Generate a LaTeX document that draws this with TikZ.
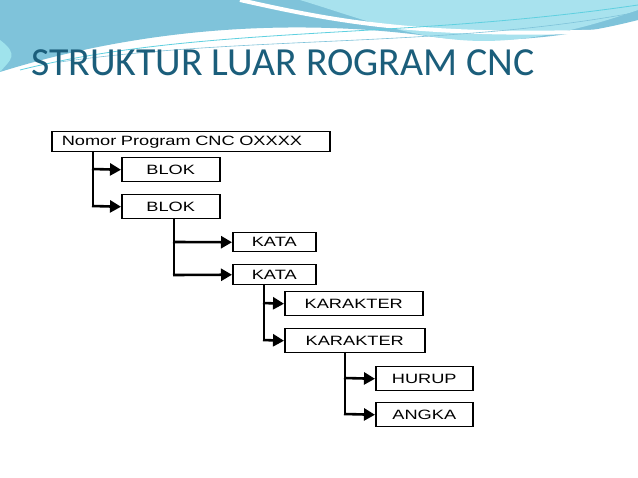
\documentclass[tikz,border=0pt]{standalone}
\usepackage{fontspec}
\setmainfont{Liberation Sans}
\newfontfamily\boxfont[FakeStretch=1.35]{Liberation Sans}
\newfontfamily\titlefont{Carlito}
\usetikzlibrary{arrows.meta}
\definecolor{titleblue}{HTML}{1B5E7B}
\definecolor{waveA}{HTML}{7FC3DA}
\definecolor{waveB}{HTML}{A8E2EE}
\definecolor{waveC}{HTML}{5FD0E0}
\tikzset{
 box/.style={draw,line width=1.5pt,inner sep=0pt,anchor=north west,font=\boxfont\fontsize{13.5}{15}\selectfont},
 conn/.style={line width=2.6pt,-{Triangle[length=11pt,width=12pt]}},
 trunk/.style={line width=2.6pt},
}
\begin{document}
\begin{tikzpicture}[x=1pt,y=-1pt]
\useasboundingbox (0,0) rectangle (638,478);
\fill[white] (0,0) rectangle (638,478);
% waves
\fill[waveA] (0,0) -- (638,0) -- (638,20) .. controls (560,40) and (480,45) .. (420,35) .. controls (300,20) and (150,25) .. (0,72) -- cycle;
\fill[waveB] (300,0) -- (638,0) -- (638,10) .. controls (580,30) and (520,45) .. (460,40) .. controls (400,35) and (350,15) .. (300,0) -- cycle;
\fill[waveC!60] (0,40) .. controls (20,55) and (10,60) .. (0,72) -- cycle;
\draw[white,line width=4pt] (240,0) .. controls (330,20) and (420,40) .. (638,30);
\draw[waveC,line width=0.8pt] (20,70) .. controls (200,25) and (400,40) .. (638,5);
\draw[waveA,line width=0.6pt] (60,62) .. controls (250,35) and (450,48) .. (638,12);
\node[anchor=west,text=titleblue,font=\titlefont\fontsize{39.8}{42}\selectfont,inner sep=0pt] (title) at (31,63) {STRUKTUR LUAR ROGRAM CNC};
% boxes
\node[box,minimum width=278pt,minimum height=20pt,text width=278pt,align=left] (nomor) at (51,131) {\hspace*{10pt}Nomor Program CNC OXXXX};
\node[box,minimum width=98pt,minimum height=24pt] (b1) at (121,157) {BLOK};
\node[box,minimum width=98pt,minimum height=24pt] (b2) at (121,194) {BLOK};
\node[box,minimum width=83pt,minimum height=19pt] (k1) at (232,232) {KATA};
\node[box,minimum width=83pt,minimum height=20pt] (k2) at (232,264) {KATA};
\node[box,minimum width=138pt,minimum height=24pt] (r1) at (284,291) {KARAKTER};
\node[box,minimum width=140pt,minimum height=24pt] (r2) at (284,328) {KARAKTER};
\node[box,minimum width=97pt,minimum height=24pt] (h) at (375,366) {HURUP};
\node[box,minimum width=97pt,minimum height=24pt] (a) at (375,402) {ANGKA};
% connectors
\draw[trunk] (93,151) -- (93,206);
\draw[conn] (92,169) -- (b1.west);
\draw[conn] (92,206) -- (b2.west);
\draw[trunk] (174,218) -- (174,275);
\draw[conn] (173,242) -- (k1.west);
\draw[conn] (173,275) -- (k2.west);
\draw[trunk] (264,284) -- (264,340);
\draw[conn] (263,303) -- (r1.west);
\draw[conn] (263,340) -- (r2.west);
\draw[trunk] (345,352) -- (345,414);
\draw[conn] (344,378) -- (h.west);
\draw[conn] (344,414) -- (a.west);
\end{tikzpicture}
\end{document}
